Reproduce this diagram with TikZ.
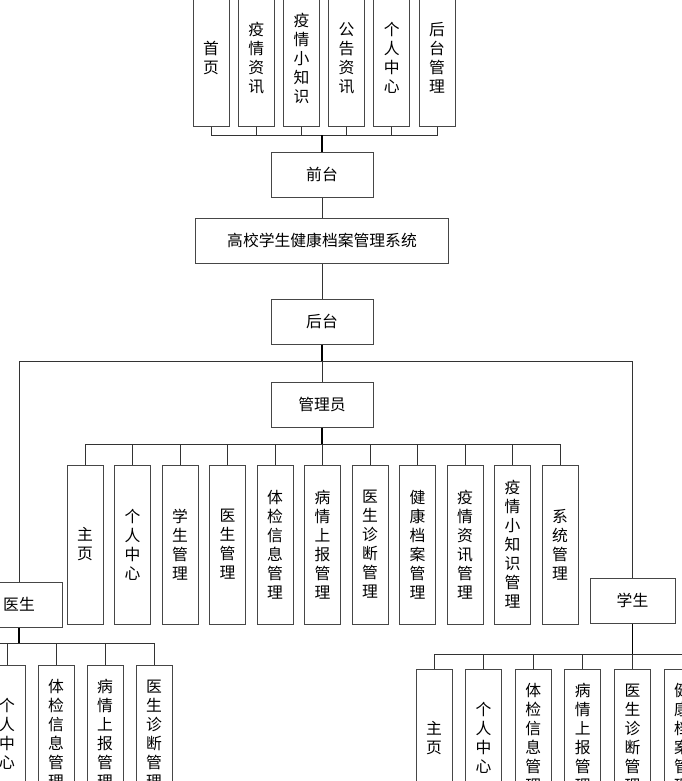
\documentclass[tikz,border=0pt]{standalone}
\usepackage{fontspec}
\usepackage{xcolor}
\usepackage{tikz}
\usetikzlibrary{calc,positioning}
\newfontfamily\cjk{Noto Sans CJK SC}
\definecolor{edgegray}{RGB}{70,70,70}
\tikzset{
  box/.style={draw=edgegray, line width=1pt, fill=white, inner sep=0pt,
    font=\cjk\fontsize{15.8}{19}\selectfont, align=center},
  hbox/.style={box, minimum width=102pt, minimum height=45pt},   % horizontal label box
  vbox/.style={box, minimum width=36pt, minimum height=138pt},   % vertical label column
  link/.style={line width=0.9pt, black!80},
  trunk/.style={line width=1.8pt, black}
}

\begin{document}
\begin{tikzpicture}[x=1pt, y=-1pt]
  \useasboundingbox (0,0) rectangle (681,781);
  % front-end pages
  \foreach \lbl [count=\i] in {{首\\页},{疫\\情\\资\\讯},{疫\\情\\小\\知\\识},{公\\告\\资\\讯},{个\\人\\中\\心},{后\\台\\管\\理}}
    \node[vbox] (t\i) at ({211+45.2*(\i-1)},58) {\lbl};
  \coordinate (topbus) at (322,135);
  \foreach \i in {1,...,6}
    \draw[link] (t\i.south) |- (topbus);
  \node[hbox] (front) at (322,174.5) {前台};
  \draw[trunk] (topbus) -- (front);
  % system
  \node[box, minimum width=253pt, minimum height=45pt] (sys) at (322,240.5) {高校学生健康档案管理系统};
  \draw[link] (front) -- (sys);
  \node[hbox] (back) at (322,321.5) {后台};
  \draw[link] (sys) -- (back);
  % roles
  \coordinate (backbus) at (322,361);
  \draw[trunk] (back) -- (backbus);
  \node[hbox] (admin) at (322,404.5) {管理员};
  \node[hbox, minimum width=86pt] (doc) at (19,604.5) {医生};
  \node[hbox, minimum width=85pt] (stu) at (632.5,600.5) {学生};
  \draw[link] (backbus) -- (admin);
  \draw[link] (backbus) -| (doc);
  \draw[link] (backbus) -| (stu);
  % admin modules
  \coordinate (admbus) at (322,444);
  \draw[trunk] (admin) -- (admbus);
  \foreach \lbl [count=\i] in {{主\\页},{个\\人\\中\\心},{学\\生\\管\\理},{医\\生\\管\\理},{体\\检\\信\\息\\管\\理},{病\\情\\上\\报\\管\\理},{医\\生\\诊\\断\\管\\理},{健\\康\\档\\案\\管\\理},{疫\\情\\资\\讯\\管\\理},{疫\\情\\小\\知\\识\\管\\理},{系\\统\\管\\理}}
    \node[vbox, minimum height=159pt] (a\i) at ({85+47.5*(\i-1)},544.5) {\lbl};
  \foreach \i in {1,...,11}
    \draw[link] (a\i.north) |- (admbus);
  % doctor modules
  \coordinate (docbus) at (19,643);
  \coordinate (docedge) at (0,643);
  \draw[trunk] (doc) -- (docbus);
  \foreach \lbl [count=\i] in {{个\\人\\中\\心},{体\\检\\信\\息\\管\\理},{病\\情\\上\\报\\管\\理},{医\\生\\诊\\断\\管\\理}}
    \node[vbox] (d\i) at ({7+49*(\i-1)},734) {\lbl};
  \foreach \i in {1,...,4}
    \draw[link] (d\i.north) |- (docbus);
  \draw[link] (docedge) -- (docbus);
  % student modules
  \coordinate (stubus) at (632.5,654);
  \draw[trunk] (stu) -- (stubus);
  \foreach \lbl [count=\i] in {{主\\页},{个\\人\\中\\心},{体\\检\\信\\息\\管\\理},{病\\情\\上\\报\\管\\理},{医\\生\\诊\\断\\管\\理},{健\\康\\档\\案\\管\\理}}
    \node[vbox] (s\i) at ({434+49.6*(\i-1)},738) {\lbl};
  \foreach \i in {1,...,6}
    \draw[link] (s\i.north) |- (stubus);
\end{tikzpicture}
\end{document}
